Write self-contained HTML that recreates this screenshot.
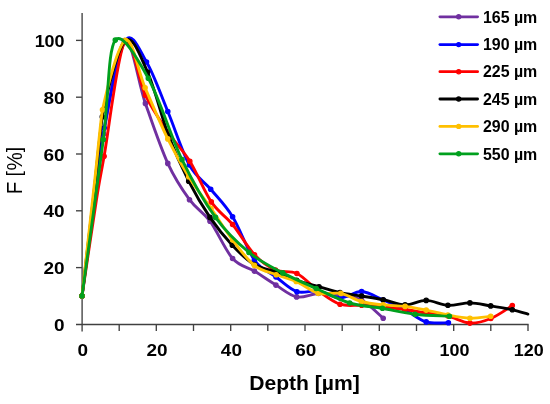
<!DOCTYPE html>
<html lang="en">
<head>
<meta charset="utf-8">
<title>F [%] vs Depth [µm]</title>
<style>
html,body{margin:0;padding:0;background:#fff;}
body{width:550px;height:404px;overflow:hidden;}
svg{display:block;}
text{font-family:"Liberation Sans", sans-serif;fill:#000;}
.tk{font-weight:bold;font-size:16.8px;}
.lg{font-weight:bold;font-size:16.4px;}
</style>
</head>
<body>
<svg width="550" height="404" viewBox="0 0 550 404">
<rect width="550" height="404" fill="#fff"/>
<g stroke="#404040" stroke-width="1.35" fill="none">
<path d="M82.1 13V331.4"/>
<path d="M76 324.5H528.6"/>
<path d="M76 267.6H82"/>
<path d="M76 210.8H82"/>
<path d="M76 154.0H82"/>
<path d="M76 97.2H82"/>
<path d="M76 40.4H82"/>
<path d="M119.2 324.5V331.0"/>
<path d="M156.3 324.5V331.0"/>
<path d="M193.5 324.5V331.0"/>
<path d="M230.7 324.5V331.0"/>
<path d="M267.8 324.5V331.0"/>
<path d="M305.0 324.5V331.0"/>
<path d="M342.2 324.5V331.0"/>
<path d="M379.3 324.5V331.0"/>
<path d="M416.5 324.5V331.0"/>
<path d="M453.7 324.5V331.0"/>
<path d="M490.8 324.5V331.0"/>
<path d="M528.0 324.5V331.0"/>
</g>
<text class="tk" transform="translate(64.6 331.0) scale(1.13 1)" text-anchor="end">0</text>
<text class="tk" transform="translate(64.6 274.2) scale(1.13 1)" text-anchor="end">20</text>
<text class="tk" transform="translate(64.6 217.4) scale(1.13 1)" text-anchor="end">40</text>
<text class="tk" transform="translate(64.6 160.6) scale(1.13 1)" text-anchor="end">60</text>
<text class="tk" transform="translate(64.6 103.8) scale(1.13 1)" text-anchor="end">80</text>
<text class="tk" transform="translate(64.6 47.0) scale(1.07 1)" text-anchor="end">100</text>
<text class="tk" transform="translate(82.7 356.1) scale(1.13 1)" text-anchor="middle">0</text>
<text class="tk" transform="translate(157.0 356.1) scale(1.13 1)" text-anchor="middle">20</text>
<text class="tk" transform="translate(231.4 356.1) scale(1.13 1)" text-anchor="middle">40</text>
<text class="tk" transform="translate(305.7 356.1) scale(1.13 1)" text-anchor="middle">60</text>
<text class="tk" transform="translate(380.0 356.1) scale(1.13 1)" text-anchor="middle">80</text>
<text class="tk" transform="translate(454.4 356.1) scale(1.07 1)" text-anchor="middle">100</text>
<text class="tk" transform="translate(528.7 356.1) scale(1.07 1)" text-anchor="middle">120</text>
<text x="304.5" y="390.1" text-anchor="middle" font-weight="bold" font-size="19.6" textLength="110.6" lengthAdjust="spacingAndGlyphs">Depth [µm]</text>
<text transform="translate(21.7 194.2) rotate(-90) scale(0.92 1)" font-size="22.4">F <tspan x="19.3" y="-1" font-size="21">[</tspan><tspan x="25.65" y="0">%</tspan><tspan x="45.7" y="-1" font-size="21">]</tspan></text>
<g stroke="#7030A0" fill="#7030A0">
<path d="M82.0 296.0C83.9 281.3 89.8 235.0 93.4 208.0C97.0 181.0 98.4 161.9 103.6 134.0C108.8 106.1 117.5 45.7 124.5 40.6C131.5 35.5 138.2 82.9 145.4 103.4C152.6 123.9 160.5 147.4 167.8 163.4C175.2 179.4 182.5 190.1 189.5 199.7C196.5 209.3 202.8 211.4 210.0 221.2C217.2 231.0 225.2 250.2 232.6 258.5C240.0 266.8 247.2 266.7 254.4 271.1C261.6 275.5 268.9 280.8 275.9 285.1C282.9 289.4 289.5 295.5 296.6 296.9C303.7 298.3 311.3 293.8 318.5 293.5C325.7 293.2 332.8 293.9 340.0 295.0C347.2 296.1 354.4 296.1 361.6 300.0C368.8 303.9 379.6 315.2 383.2 318.2" fill="none" stroke-width="2.9" stroke-linecap="round" stroke-linejoin="round"/>
<circle cx="82.0" cy="296.0" r="2.2" stroke-width="1.2"/>
<circle cx="103.6" cy="134.0" r="2.2" stroke-width="1.2"/>
<circle cx="124.5" cy="40.6" r="2.2" stroke-width="1.2"/>
<circle cx="145.4" cy="103.4" r="2.2" stroke-width="1.2"/>
<circle cx="167.8" cy="163.4" r="2.2" stroke-width="1.2"/>
<circle cx="189.5" cy="199.7" r="2.2" stroke-width="1.2"/>
<circle cx="210.0" cy="221.2" r="2.2" stroke-width="1.2"/>
<circle cx="232.6" cy="258.5" r="2.2" stroke-width="1.2"/>
<circle cx="254.4" cy="271.1" r="2.2" stroke-width="1.2"/>
<circle cx="275.9" cy="285.1" r="2.2" stroke-width="1.2"/>
<circle cx="296.6" cy="296.9" r="2.2" stroke-width="1.2"/>
<circle cx="318.5" cy="293.5" r="2.2" stroke-width="1.2"/>
<circle cx="340.0" cy="295.0" r="2.2" stroke-width="1.2"/>
<circle cx="361.6" cy="300.0" r="2.2" stroke-width="1.2"/>
<circle cx="383.2" cy="318.2" r="2.2" stroke-width="1.2"/>
</g>
<g stroke="#0000FF" fill="#0000FF">
<path d="M82.0 296.0C84.0 280.8 90.2 233.0 93.9 205.0C97.6 177.0 99.0 155.3 104.2 128.0C109.4 100.7 118.0 51.9 125.1 40.9C132.2 29.9 139.4 50.2 146.5 62.0C153.6 73.8 160.7 94.3 167.8 111.5C175.0 128.7 182.2 152.0 189.4 165.0C196.6 178.0 203.5 180.7 210.7 189.3C217.9 197.9 225.3 204.9 232.6 216.7C239.9 228.5 247.2 249.9 254.4 260.0C261.6 270.1 268.9 271.7 276.0 277.0C283.1 282.3 289.8 289.4 296.9 291.7C304.0 294.0 311.3 289.9 318.5 291.0C325.7 292.1 332.8 297.9 340.0 298.0C347.2 298.1 354.4 291.2 361.6 291.5C368.8 291.8 376.0 296.9 383.2 300.0C390.4 303.1 397.6 306.2 404.8 309.8C412.0 313.4 418.9 319.8 426.2 321.9C433.5 324.0 444.7 322.6 448.4 322.7" fill="none" stroke-width="2.9" stroke-linecap="round" stroke-linejoin="round"/>
<circle cx="82.0" cy="296.0" r="2.2" stroke-width="1.2"/>
<circle cx="104.2" cy="128.0" r="2.2" stroke-width="1.2"/>
<circle cx="125.1" cy="40.9" r="2.2" stroke-width="1.2"/>
<circle cx="146.5" cy="62.0" r="2.2" stroke-width="1.2"/>
<circle cx="167.8" cy="111.5" r="2.2" stroke-width="1.2"/>
<circle cx="189.4" cy="165.0" r="2.2" stroke-width="1.2"/>
<circle cx="210.7" cy="189.3" r="2.2" stroke-width="1.2"/>
<circle cx="232.6" cy="216.7" r="2.2" stroke-width="1.2"/>
<circle cx="254.4" cy="260.0" r="2.2" stroke-width="1.2"/>
<circle cx="276.0" cy="277.0" r="2.2" stroke-width="1.2"/>
<circle cx="296.9" cy="291.7" r="2.2" stroke-width="1.2"/>
<circle cx="318.5" cy="291.0" r="2.2" stroke-width="1.2"/>
<circle cx="340.0" cy="298.0" r="2.2" stroke-width="1.2"/>
<circle cx="361.6" cy="291.5" r="2.2" stroke-width="1.2"/>
<circle cx="383.2" cy="300.0" r="2.2" stroke-width="1.2"/>
<circle cx="404.8" cy="309.8" r="2.2" stroke-width="1.2"/>
<circle cx="426.2" cy="321.9" r="2.2" stroke-width="1.2"/>
<circle cx="448.4" cy="322.7" r="2.2" stroke-width="1.2"/>
</g>
<g stroke="#FF0000" fill="#FF0000">
<path d="M82.0 296.0C84.4 280.0 92.7 223.3 96.4 200.0C100.1 176.7 99.4 182.6 104.1 156.3C108.8 130.0 117.8 52.2 124.7 42.0C131.6 31.8 138.2 80.2 145.4 95.2C152.6 110.2 160.4 121.0 167.8 132.0C175.2 143.0 182.6 149.5 189.8 161.2C197.1 172.8 204.2 191.3 211.3 201.9C218.4 212.5 225.4 215.7 232.6 224.5C239.8 233.3 247.3 247.1 254.5 254.7C261.6 262.3 268.4 266.9 275.5 270.0C282.6 273.1 289.7 270.0 296.9 273.5C304.1 277.0 311.3 285.9 318.5 291.0C325.7 296.1 332.8 301.8 340.0 304.2C347.2 306.6 354.4 304.8 361.6 305.3C368.8 305.8 376.0 306.3 383.2 307.0C390.4 307.7 397.6 308.5 404.8 309.5C412.0 310.5 419.0 311.9 426.2 313.0C433.4 314.1 440.7 314.3 448.0 316.0C455.3 317.7 462.8 322.7 469.9 323.1C477.0 323.5 483.7 321.4 490.8 318.5C497.9 315.6 508.7 307.8 512.3 305.6" fill="none" stroke-width="2.9" stroke-linecap="round" stroke-linejoin="round"/>
<circle cx="82.0" cy="296.0" r="2.2" stroke-width="1.2"/>
<circle cx="104.1" cy="156.3" r="2.2" stroke-width="1.2"/>
<circle cx="124.7" cy="42.0" r="2.2" stroke-width="1.2"/>
<circle cx="145.4" cy="95.2" r="2.2" stroke-width="1.2"/>
<circle cx="167.8" cy="132.0" r="2.2" stroke-width="1.2"/>
<circle cx="189.8" cy="161.2" r="2.2" stroke-width="1.2"/>
<circle cx="211.3" cy="201.9" r="2.2" stroke-width="1.2"/>
<circle cx="232.6" cy="224.5" r="2.2" stroke-width="1.2"/>
<circle cx="254.5" cy="254.7" r="2.2" stroke-width="1.2"/>
<circle cx="275.5" cy="270.0" r="2.2" stroke-width="1.2"/>
<circle cx="296.9" cy="273.5" r="2.2" stroke-width="1.2"/>
<circle cx="318.5" cy="291.0" r="2.2" stroke-width="1.2"/>
<circle cx="340.0" cy="304.2" r="2.2" stroke-width="1.2"/>
<circle cx="361.6" cy="305.3" r="2.2" stroke-width="1.2"/>
<circle cx="383.2" cy="307.0" r="2.2" stroke-width="1.2"/>
<circle cx="404.8" cy="309.5" r="2.2" stroke-width="1.2"/>
<circle cx="426.2" cy="313.0" r="2.2" stroke-width="1.2"/>
<circle cx="448.0" cy="316.0" r="2.2" stroke-width="1.2"/>
<circle cx="469.9" cy="323.1" r="2.2" stroke-width="1.2"/>
<circle cx="490.8" cy="318.5" r="2.2" stroke-width="1.2"/>
<circle cx="512.3" cy="305.6" r="2.2" stroke-width="1.2"/>
</g>
<g stroke="#000000" fill="#000000">
<path d="M82.0 296.0C83.8 280.8 89.2 234.9 92.6 205.0C96.0 175.1 100.7 124.9 102.3 116.7C107.7 89.4 117.6 48.5 125.1 41.0C132.6 33.5 140.3 56.2 147.5 72.0C154.7 87.8 161.6 117.4 168.5 135.6C175.4 153.8 181.8 167.6 188.7 181.2C195.6 194.8 202.7 206.7 210.0 217.4C217.3 228.1 224.9 237.4 232.3 245.3C239.7 253.2 247.1 260.2 254.4 264.6C261.7 269.0 269.0 269.2 276.0 271.8C283.0 274.4 289.4 277.9 296.6 280.4C303.8 282.9 311.8 284.7 319.0 286.7C326.2 288.7 332.9 291.1 340.0 292.6C347.1 294.2 354.4 294.8 361.6 296.0C368.8 297.2 375.9 298.2 383.2 299.7C390.4 301.2 397.9 304.8 405.1 304.9C412.3 305.0 419.1 300.3 426.2 300.4C433.3 300.5 440.6 304.9 447.9 305.3C455.2 305.7 462.8 302.8 469.9 302.9C477.0 303.0 483.6 304.8 490.7 305.9C497.8 307.0 506.1 308.4 512.3 309.8C518.5 311.2 525.3 313.4 527.9 314.1" fill="none" stroke-width="2.9" stroke-linecap="round" stroke-linejoin="round"/>
<circle cx="82.0" cy="296.0" r="2.2" stroke-width="1.2"/>
<circle cx="102.3" cy="116.7" r="2.2" stroke-width="1.2"/>
<circle cx="125.1" cy="41.0" r="2.2" stroke-width="1.2"/>
<circle cx="147.5" cy="72.0" r="2.2" stroke-width="1.2"/>
<circle cx="168.5" cy="135.6" r="2.2" stroke-width="1.2"/>
<circle cx="188.7" cy="181.2" r="2.2" stroke-width="1.2"/>
<circle cx="210.0" cy="217.4" r="2.2" stroke-width="1.2"/>
<circle cx="232.3" cy="245.3" r="2.2" stroke-width="1.2"/>
<circle cx="254.4" cy="264.6" r="2.2" stroke-width="1.2"/>
<circle cx="276.0" cy="271.8" r="2.2" stroke-width="1.2"/>
<circle cx="296.6" cy="280.4" r="2.2" stroke-width="1.2"/>
<circle cx="319.0" cy="286.7" r="2.2" stroke-width="1.2"/>
<circle cx="340.0" cy="292.6" r="2.2" stroke-width="1.2"/>
<circle cx="361.6" cy="296.0" r="2.2" stroke-width="1.2"/>
<circle cx="383.2" cy="299.7" r="2.2" stroke-width="1.2"/>
<circle cx="405.1" cy="304.9" r="2.2" stroke-width="1.2"/>
<circle cx="426.2" cy="300.4" r="2.2" stroke-width="1.2"/>
<circle cx="447.9" cy="305.3" r="2.2" stroke-width="1.2"/>
<circle cx="469.9" cy="302.9" r="2.2" stroke-width="1.2"/>
<circle cx="490.7" cy="305.9" r="2.2" stroke-width="1.2"/>
<circle cx="512.3" cy="309.8" r="2.2" stroke-width="1.2"/>
</g>
<g stroke="#FFC000" fill="#FFC000">
<path d="M82.0 296.0C84.1 276.7 91.4 211.0 94.8 180.0C98.2 149.0 101.0 116.8 102.5 109.8C107.6 86.5 118.3 43.9 125.4 40.2C132.5 36.5 138.0 71.3 145.1 87.8C152.2 104.2 160.5 124.1 167.8 138.9C175.1 153.7 181.5 165.1 188.7 176.7C195.9 188.3 203.7 197.8 211.0 208.3C218.3 218.9 225.4 230.5 232.6 240.0C239.8 249.5 247.1 259.6 254.4 265.4C261.7 271.2 269.2 272.0 276.2 274.7C283.2 277.4 289.2 278.3 296.2 281.4C303.2 284.5 310.7 291.3 318.1 293.3C325.5 295.3 333.6 292.0 340.8 293.4C348.0 294.8 354.2 299.6 361.3 301.5C368.4 303.4 375.9 304.1 383.2 304.9C390.5 305.7 397.9 305.5 405.1 306.4C412.3 307.3 419.1 308.7 426.2 310.1C433.3 311.5 440.6 313.6 447.9 315.0C455.2 316.4 462.8 318.0 469.9 318.2C477.0 318.4 487.2 316.6 490.7 316.3" fill="none" stroke-width="2.9" stroke-linecap="round" stroke-linejoin="round"/>
<circle cx="82.0" cy="296.0" r="2.2" stroke-width="1.2"/>
<circle cx="102.5" cy="109.8" r="2.2" stroke-width="1.2"/>
<circle cx="125.4" cy="40.2" r="2.2" stroke-width="1.2"/>
<circle cx="145.1" cy="87.8" r="2.2" stroke-width="1.2"/>
<circle cx="167.8" cy="138.9" r="2.2" stroke-width="1.2"/>
<circle cx="188.7" cy="176.7" r="2.2" stroke-width="1.2"/>
<circle cx="211.0" cy="208.3" r="2.2" stroke-width="1.2"/>
<circle cx="232.6" cy="240.0" r="2.2" stroke-width="1.2"/>
<circle cx="254.4" cy="265.4" r="2.2" stroke-width="1.2"/>
<circle cx="276.2" cy="274.7" r="2.2" stroke-width="1.2"/>
<circle cx="296.2" cy="281.4" r="2.2" stroke-width="1.2"/>
<circle cx="318.1" cy="293.3" r="2.2" stroke-width="1.2"/>
<circle cx="340.8" cy="293.4" r="2.2" stroke-width="1.2"/>
<circle cx="361.3" cy="301.5" r="2.2" stroke-width="1.2"/>
<circle cx="383.2" cy="304.9" r="2.2" stroke-width="1.2"/>
<circle cx="405.1" cy="306.4" r="2.2" stroke-width="1.2"/>
<circle cx="426.2" cy="310.1" r="2.2" stroke-width="1.2"/>
<circle cx="447.9" cy="315.0" r="2.2" stroke-width="1.2"/>
<circle cx="469.9" cy="318.2" r="2.2" stroke-width="1.2"/>
<circle cx="490.7" cy="316.3" r="2.2" stroke-width="1.2"/>
</g>
<g stroke="#00A01E" fill="#00A01E">
<path d="M82.0 296.0C85.5 269.9 97.8 182.2 103.3 139.5C108.8 96.8 107.8 50.3 115.3 40.1C121.7 31.4 137.2 58.3 148.3 78.2C159.4 98.1 170.8 136.4 182.0 159.6C193.2 182.8 204.3 201.9 215.5 217.4C226.7 232.9 237.8 243.2 249.0 252.4C260.2 261.6 271.6 266.9 282.8 272.9C294.0 278.9 305.1 283.5 316.2 288.5C327.3 293.5 338.7 299.7 349.7 303.0C360.7 306.3 371.5 306.4 382.4 308.3C393.3 310.2 403.9 312.9 415.1 314.2C426.3 315.5 443.7 315.9 449.4 316.3" fill="none" stroke-width="2.9" stroke-linecap="round" stroke-linejoin="round"/>
<circle cx="82.0" cy="296.0" r="2.2" stroke-width="1.2"/>
<circle cx="103.3" cy="139.5" r="2.2" stroke-width="1.2"/>
<circle cx="115.3" cy="40.1" r="2.2" stroke-width="1.2"/>
<circle cx="148.3" cy="78.2" r="2.2" stroke-width="1.2"/>
<circle cx="182.0" cy="159.6" r="2.2" stroke-width="1.2"/>
<circle cx="215.5" cy="217.4" r="2.2" stroke-width="1.2"/>
<circle cx="249.0" cy="252.4" r="2.2" stroke-width="1.2"/>
<circle cx="282.8" cy="272.9" r="2.2" stroke-width="1.2"/>
<circle cx="316.2" cy="288.5" r="2.2" stroke-width="1.2"/>
<circle cx="349.7" cy="303.0" r="2.2" stroke-width="1.2"/>
<circle cx="382.4" cy="308.3" r="2.2" stroke-width="1.2"/>
<circle cx="415.1" cy="314.2" r="2.2" stroke-width="1.2"/>
<circle cx="449.4" cy="316.3" r="2.2" stroke-width="1.2"/>
</g>
<g stroke="#7030A0" fill="#7030A0"><path d="M439.9 16.8H477.6" stroke-width="2.8" stroke-linecap="round"/><circle cx="458.7" cy="16.8" r="2.1" stroke-width="1.2"/></g>
<text class="lg" x="482.9" y="22.5" textLength="54.4" lengthAdjust="spacingAndGlyphs">165 µm</text>
<g stroke="#0000FF" fill="#0000FF"><path d="M439.9 44.6H477.6" stroke-width="2.8" stroke-linecap="round"/><circle cx="458.7" cy="44.6" r="2.1" stroke-width="1.2"/></g>
<text class="lg" x="482.9" y="50.3" textLength="54.4" lengthAdjust="spacingAndGlyphs">190 µm</text>
<g stroke="#FF0000" fill="#FF0000"><path d="M439.9 71.7H477.6" stroke-width="2.8" stroke-linecap="round"/><circle cx="458.7" cy="71.7" r="2.1" stroke-width="1.2"/></g>
<text class="lg" x="482.9" y="77.4" textLength="54.4" lengthAdjust="spacingAndGlyphs">225 µm</text>
<g stroke="#000000" fill="#000000"><path d="M439.9 99.0H477.6" stroke-width="2.8" stroke-linecap="round"/><circle cx="458.7" cy="99.0" r="2.1" stroke-width="1.2"/></g>
<text class="lg" x="482.9" y="104.7" textLength="54.4" lengthAdjust="spacingAndGlyphs">245 µm</text>
<g stroke="#FFC000" fill="#FFC000"><path d="M439.9 126.4H477.6" stroke-width="2.8" stroke-linecap="round"/><circle cx="458.7" cy="126.4" r="2.1" stroke-width="1.2"/></g>
<text class="lg" x="482.9" y="132.1" textLength="54.4" lengthAdjust="spacingAndGlyphs">290 µm</text>
<g stroke="#00A01E" fill="#00A01E"><path d="M439.9 153.8H477.6" stroke-width="2.8" stroke-linecap="round"/><circle cx="458.7" cy="153.8" r="2.1" stroke-width="1.2"/></g>
<text class="lg" x="482.9" y="159.5" textLength="54.4" lengthAdjust="spacingAndGlyphs">550 µm</text>
</svg>
</body>
</html>
